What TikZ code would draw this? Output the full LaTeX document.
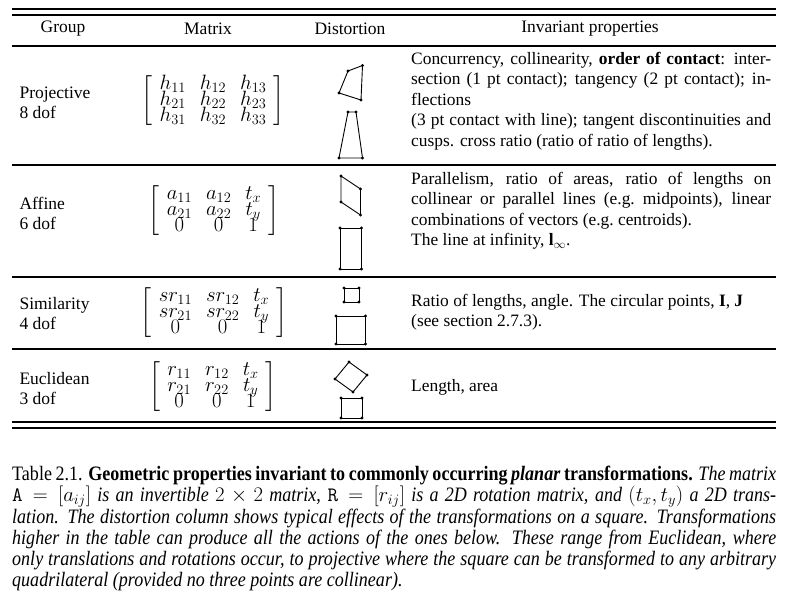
\documentclass[tikz,border=0pt]{standalone}
\usepackage{fontspec}
\usepackage{amsmath}
\setmainfont{Liberation Serif}
\newfontfamily\capfont[FakeStretch=0.88]{Liberation Serif}
\begin{document}
\begin{tikzpicture}[x=1pt,y=-1pt,
  rulel/.style={line width=2pt},
  hdr/.style={font=\fontsize{17.5}{21}\selectfont},
  grp/.style={font=\fontsize{17.5}{20}\selectfont,align=left,anchor=west},
  inv/.style={font=\fontsize{17.4}{20.5}\selectfont,align=justify,text width=360pt,anchor=north west,inner sep=0pt},
  mat/.style={font=\fontsize{20}{21}\selectfont},
  shp/.style={line width=0.9pt},
  dot/.style={circle,fill,inner sep=0pt,minimum size=3.2pt}]
\useasboundingbox (0,0) rectangle (786,593);
\setlength{\arraycolsep}{7pt}
\draw[rulel] (12,9)--(776,9); \draw[rulel] (12,15)--(776,15);
\node[hdr] (h1) at (63,29) {Group};
\node[hdr] (h2) at (208,29) {Matrix};
\node[hdr] (h3) at (350,29) {Distortion};
\node[hdr] (h4) at (590,29) {Invariant properties};
\draw[rulel] (12,46)--(776,46);
\draw[rulel] (12,165)--(776,165);
\draw[rulel] (12,277)--(776,277);
\draw[rulel] (12,349)--(776,349);
\draw[rulel] (12,422)--(776,422); \draw[rulel] (12,428)--(776,428);
% groups
\node[grp] (g1) at (16,103) {Projective\\8 dof};
\node[grp] (g2) at (16,213) {Affine\\6 dof};
\node[grp] (g3) at (16,314) {Similarity\\4 dof};
\node[grp] (g4) at (16,389) {Euclidean\\3 dof};
% matrices
\node[mat] (m1) at (213,101) {$\left[\begin{array}{ccc} h_{11} & h_{12} & h_{13}\\[-5pt] h_{21} & h_{22} & h_{23}\\[-5pt] h_{31} & h_{32} & h_{33}\end{array}\right]$};
\node[mat] (m2) at (214,211) {$\left[\begin{array}{ccc} a_{11} & a_{12} & t_x\\[-5pt] a_{21} & a_{22} & t_y\\[-5pt] 0 & 0 & 1\end{array}\right]$};
\node[mat] (m3) at (214,313) {$\left[\begin{array}{ccc} sr_{11} & sr_{12} & t_x\\[-5pt] sr_{21} & sr_{22} & t_y\\[-5pt] 0 & 0 & 1\end{array}\right]$};
\node[mat] (m4) at (213,387) {$\left[\begin{array}{ccc} r_{11} & r_{12} & t_x\\[-5pt] r_{21} & r_{22} & t_y\\[-5pt] 0 & 0 & 1\end{array}\right]$};
% distortions
\draw[shp] (339,93)--(348,71)--(362.5,65.5)--(361,100)--cycle;
\foreach \p in {(339,93),(348,71),(362.5,65.5),(361,100)} \node[dot] at \p {};
\draw[shp] (339,158)--(348,112)--(356,112)--(362.5,158)--cycle;
\foreach \p in {(339,158),(348,112),(356,112),(362.5,158)} \node[dot] at \p {};
\draw[shp] (341,176)--(360.5,189)--(360.5,215)--(341,202)--cycle;
\foreach \p in {(341,176),(360.5,189),(360.5,215),(341,202)} \node[dot] at \p {};
\draw[shp] (340,228)--(361.5,228)--(361.5,269)--(340,269)--cycle;
\foreach \p in {(340,228),(361.5,228),(361.5,269),(340,269)} \node[dot] at \p {};
\draw[shp] (344,288)--(359,288)--(359,302)--(344,302)--cycle;
\foreach \p in {(344,288),(359,288),(359,302),(344,302)} \node[dot] at \p {};
\draw[shp] (336,316)--(365.5,316)--(365.5,344)--(336,344)--cycle;
\foreach \p in {(336,316),(365.5,316),(365.5,344),(336,344)} \node[dot] at \p {};
\draw[shp] (349,362)--(367,375)--(353,392)--(335,379)--cycle;
\foreach \p in {(349,362),(367,375),(353,392),(335,379)} \node[dot] at \p {};
\draw[shp] (341,398)--(362,398)--(362,418)--(341,418)--cycle;
\foreach \p in {(341,398),(362,398),(362,418),(341,418)} \node[dot] at \p {};
% invariants
\node[inv] (i1) at (411,52) {Concurrency, collinearity, \textbf{order of contact}: intersection (1 pt contact); tangency (2 pt con\-tact); inflections\\(3 pt contact with line); tangent discontinuities and cusps. cross ratio (ratio of ratio of lengths).};
\node[inv] (i2) at (411,172) {Parallelism, ratio of areas, ratio of lengths on collinear or parallel lines (e.g.\ midpoints), lin\-ear combinations of vectors (e.g.\ centroids).\\The line at infinity, $\mathbf{l}_\infty$.};
\node[inv] (i3) at (411,294) {Ratio of lengths, angle. The circular points, \textbf{I}, \textbf{J}\\(see section 2.7.3).};
\node[inv,anchor=west] (i4) at (411,387) {Length, area};
% caption
\node[anchor=north west,inner sep=0pt,text width=764pt,align=justify,font=\capfont\fontsize{20.5}{21.2}\selectfont] (cap) at (12,466)
{Table 2.1. \textbf{Geometric properties invariant to commonly occurring \textit{planar} transformations.} \textit{The matrix} $\mathtt{A}=[a_{ij}]$ \textit{is an invertible} $2\times 2$ \textit{matrix,} $\mathtt{R}=[r_{ij}]$ \textit{is a 2D rotation matrix, and} $(t_x,t_y)$ \textit{a 2D trans\-lation. The distortion column shows typical effects of the transformations on a square. Transformations higher in the table can produce all the actions of the ones below. These range from Euclidean, where only translations and rotations occur, to projective where the square can be transformed to any arbitrary quadrilateral (provided no three points are collinear).}};
\end{tikzpicture}
\end{document}
